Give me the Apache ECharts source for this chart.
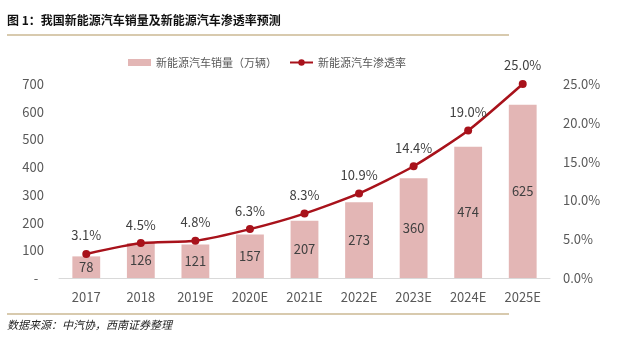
<!DOCTYPE html>
<html><head><meta charset="utf-8">
<script src="https://cdn.jsdelivr.net/npm/echarts@6/dist/echarts.min.js"></script>
<style>html,body{margin:0;padding:0;background:#fff}#c{width:625px;height:339px}</style>
</head><body><div id="c"></div>
<script>
const categories = ['2017','2018','2019E','2020E','2021E','2022E','2023E','2024E','2025E'];
const salesValues = [78,126,121,157,207,273,360,474,625];
const penetrationValues = [3.1,4.5,4.8,6.3,8.3,10.9,14.4,19.0,25.0];
const salesName = '新能源汽车销量（万辆）';
const penetrationName = '新能源汽车渗透率';
const titleText = '图 1：我国新能源汽车销量及新能源汽车渗透率预测';
const sourceText = '数据来源：中汽协，西南证券整理';

const FONT = '"Noto Sans CJK SC", "Noto Sans", sans-serif';
const chart = echarts.init(document.getElementById('c'), null, {renderer:'canvas'});
chart.setOption({
  animation:false,
  backgroundColor:'#fff',
  textStyle:{fontFamily:FONT},
  graphic:[
    {type:'text', left:7, top:14, style:{text:titleText, font:'bold 12px '+FONT, fill:'#111'}},
    {type:'line', shape:{x1:7,y1:35,x2:509,y2:35}, style:{stroke:'#CBB893', lineWidth:1.5}},
    {type:'line', shape:{x1:7,y1:314,x2:509,y2:314}, style:{stroke:'#CBB893', lineWidth:1.5}},
    {type:'text', left:7, top:319, style:{text:sourceText, font:'italic 11px '+FONT, fill:'#222'}}
  ],
  legend:[
    {data:[{name:salesName, icon:'rect'}], left:123, top:52, itemWidth:23, itemHeight:7, itemGap:4,
     textStyle:{color:'#595959', fontSize:11, fontFamily:FONT}},
    {data:[{name:penetrationName}], left:284, top:52, itemWidth:23, itemHeight:8,
     textStyle:{color:'#595959', fontSize:11, fontFamily:FONT}}
  ],
  grid:{left:59, right:75, top:84, bottom:61},
  xAxis:{type:'category', data:categories,
    axisLine:{lineStyle:{color:'#D9D9D9'}}, axisTick:{show:false},
    axisLabel:{color:'#595959', fontSize:13, margin:13, fontFamily:FONT}},
  yAxis:[
    {type:'value', min:0, max:700, interval:100, splitLine:{show:false},
     axisLine:{show:false}, axisTick:{show:false},
     axisLabel:{color:'#595959', fontSize:13, margin:15, fontFamily:FONT,
       formatter:v=> v===0 ? '-  ' : String(v)}},
    {type:'value', min:0, max:25, interval:5, splitLine:{show:false},
     axisLine:{show:false}, axisTick:{show:false},
     axisLabel:{color:'#595959', fontSize:13, margin:13, fontFamily:FONT,
       formatter:v=> v.toFixed(1)+'%'}}
  ],
  series:[
    {name:salesName, type:'bar', data:salesValues, barWidth:'51%', yAxisIndex:0,
     itemStyle:{color:'#E3B6B5'},
     label:{show:true, position:'inside', color:'#404040', fontSize:13, fontFamily:FONT}},
    {name:penetrationName, type:'line', data:penetrationValues, yAxisIndex:1, smooth:0.2,
     symbol:'circle', symbolSize:8,
     lineStyle:{color:'#A8121B', width:2.5}, itemStyle:{color:'#A8121B'},
     label:{show:true, position:'top', distance:8, color:'#404040', fontSize:13, fontFamily:FONT,
       formatter:p=> p.value.toFixed(1)+'%'}}
  ]
});
</script></body></html>
